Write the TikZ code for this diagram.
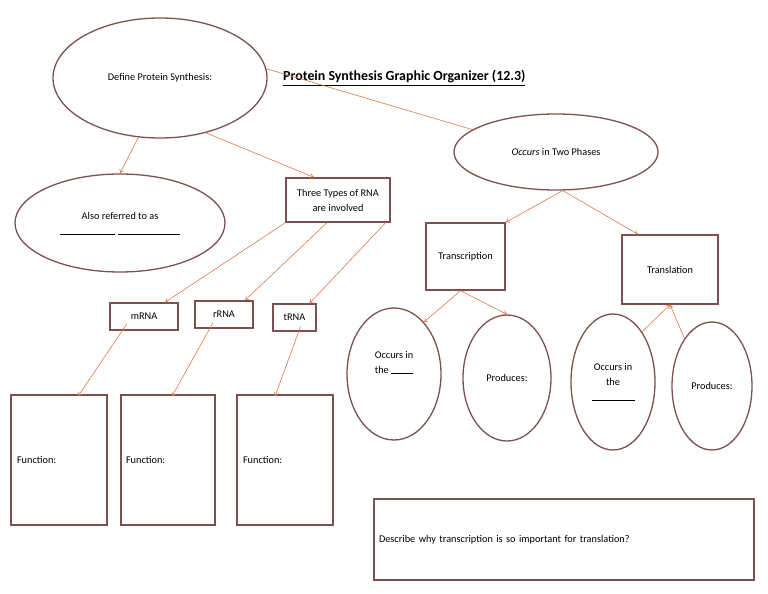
\documentclass[tikz,border=0pt]{standalone}
\usepackage{fontspec}
\setmainfont{Carlito}
\usetikzlibrary{shapes.geometric,arrows.meta}
\definecolor{edge}{RGB}{222,120,75}
\definecolor{brd}{RGB}{125,80,80}
\begin{document}
\begin{tikzpicture}[x=1pt,y=-1pt,
  el/.style={draw=brd,line width=1.3pt,ellipse,inner sep=0pt,font=\fontsize{10.3}{15}\selectfont,align=center},
  bx/.style={draw=brd,line width=1.3pt,rectangle,inner sep=0pt,font=\fontsize{10.3}{15}\selectfont,align=center},
  ar/.style={draw=edge,line width=0.6pt,-{To[length=4pt,width=5pt]}},
  ln/.style={draw=edge,line width=0.6pt}]
\useasboundingbox (0,0) rectangle (768,594);
\node[el,minimum width=214,minimum height=120] (e1) at (160,78) {Define Protein Synthesis:};
\node[font=\bfseries\fontsize{13.9}{16}\selectfont,anchor=west,inner sep=0pt] (title) at (283,78) {\underline{Protein Synthesis Graphic Organizer (12.3)}};
\node[el,minimum width=210,minimum height=98] (e2) at (120,223) {Also referred to as\\\rule{55pt}{0.4pt}\ \rule{62pt}{0.4pt}};
\node[bx,minimum width=104,minimum height=44] (rna) at (338,200) {Three Types of RNA\\are involved};
\node[el,minimum width=204,minimum height=76] (ph) at (556,152) {\textit{Occurs} in Two Phases};
\node[bx,minimum width=79,minimum height=67] (tc) at (465.5,256.5) {Transcription};
\node[bx,minimum width=96,minimum height=69] (tl) at (670,269.5) {Translation};
\node[bx,minimum width=68,minimum height=27] (m) at (144,316.5) {mRNA};
\node[bx,minimum width=58,minimum height=27] (r) at (224,314.5) {rRNA};
\node[bx,minimum width=43,minimum height=27] (t) at (294.5,317.5) {tRNA};
\node[bx,minimum width=96,minimum height=130,align=left,text width=84pt] (f1) at (59,460) {Function:};
\node[bx,minimum width=94,minimum height=130,align=left,text width=84pt] (f2) at (168,460) {Function:};
\node[bx,minimum width=96,minimum height=130,align=left,text width=84pt] (f3) at (285,460) {Function:};
\node[el,minimum width=94,minimum height=132] (o1) at (394,374) {Occurs in\\the \rule{22pt}{0.4pt}\\[8pt]};
\node[el,minimum width=88,minimum height=126] (p1) at (507,378) {Produces:};
\node[el,minimum width=84,minimum height=136] (o2) at (613,382) {Occurs in\\the\\\rule{43pt}{0.4pt}};
\node[el,minimum width=80,minimum height=128] (p2) at (712,386) {Produces:};
\node[bx,minimum width=380,minimum height=81,align=left,text width=370pt] (q) at (564,539.5) {Describe why transcription is so important for translation?};
\draw[ar] (e1.250) -- (e2.north);
\draw[ar] (e1.-50) -- ([xshift=-24]rna.north);
\draw[ln] (e1.5) -- (ph.165);
\draw[ar] (ph.-80) -- (tc.north east);
\draw[ar] (ph.-80) -- ([xshift=-32]tl.north);
\draw[ar] (rna.south west) -- ([xshift=21]m.north);
\draw[ar] ([xshift=-11]rna.south) -- ([xshift=21]r.north);
\draw[ar] ([xshift=-5]rna.south east) -- ([xshift=15]t.north);
\draw[ar] ([xshift=-17,yshift=7]m.south) -- ([xshift=19,yshift=-2]f1.north);
\draw[ar] ([xshift=-11,yshift=6]r.south) -- ([xshift=4,yshift=-2]f2.north);
\draw[ar] ([xshift=6,yshift=5]t.south) -- ([xshift=-10,yshift=-2]f3.north);
\draw[ar] ([xshift=-5]tc.south) -- (o1.60);
\draw[ar] ([xshift=-5]tc.south) -- (p1.north);
\draw[ar] (o2.60) -- (tl.south);
\draw[ar] (p2.120) -- (tl.south);
\end{tikzpicture}
\end{document}
